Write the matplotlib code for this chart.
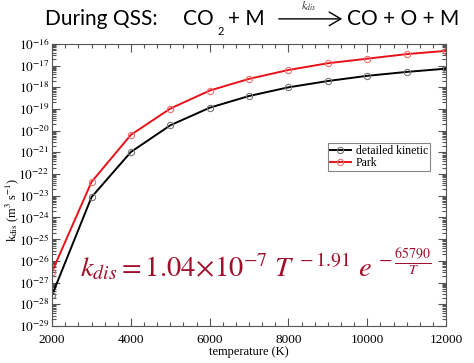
import numpy as np
import matplotlib.pyplot as plt
from matplotlib.patches import FancyArrowPatch
from matplotlib.ticker import LogLocator, NullFormatter, FixedLocator, AutoMinorLocator

# data (log10 of k_dis in m^3/s)
temperature = [2000, 3000, 4000, 5000, 6000, 7000, 8000, 9000, 10000, 11000, 12000]
log_k_detailed = [-27.57, -23.06, -20.98, -19.75, -18.94, -18.40, -18.00, -17.71, -17.47, -17.29, -17.14]
log_k_park = [-26.49, -22.36, -20.19, -18.98, -18.15, -17.61, -17.20, -16.89, -16.68, -16.47, -16.32]
decades = list(range(-29, -15))

k_detailed = 10.0 ** np.array(log_k_detailed)
k_park = 10.0 ** np.array(log_k_park)

plt.rcParams['mathtext.fontset'] = 'stix'
serif = 'Liberation Serif'

fig = plt.figure(figsize=(4.74, 3.63), dpi=100)
ax = fig.add_axes([0.110, 0.102, 0.831, 0.777])

ax.plot(temperature, k_detailed, color='black', lw=1.4, marker='o', ms=4.5,
        mfc='none', mec='#777777', mew=0.8, label='detailed kinetic')
ax.plot(temperature, k_park, color='#e8111a', lw=1.4, marker='o', ms=4.5,
        mfc='none', mec='#f07070', mew=0.8, label='Park')

ax.set_yscale('log')
ax.set_xlim(2000, 12000)
ax.set_ylim(1e-29, 1e-16)

ax.set_xticks([2000, 4000, 6000, 8000, 10000, 12000])
ax.xaxis.set_minor_locator(AutoMinorLocator(6))
ax.yaxis.set_major_locator(FixedLocator([10.0 ** e for e in decades]))
ax.yaxis.set_minor_locator(LogLocator(base=10, subs=np.arange(2, 10), numticks=40))
ax.yaxis.set_minor_formatter(NullFormatter())
ax.set_yticklabels([r'$\mathrm{10}^{%d}$' % e for e in decades])

ax.tick_params(which='both', direction='in', top=True, right=True, colors='#555555',
               labelcolor='black', width=0.8)
ax.tick_params(which='major', length=6, labelsize=9.5, pad=2)
ax.tick_params(axis='x', which='major', pad=5.5)
ax.tick_params(which='minor', length=3)
for lab in ax.get_xticklabels() + ax.get_yticklabels():
    lab.set_family(serif)
for s in ax.spines.values():
    s.set_color('#555555')

ax.set_xlabel('temperature (K)', family=serif, fontsize=9)
ax.xaxis.set_label_coords(0.5, -0.072)
ax.set_ylabel(r'k$_{\rm dis}$ (m$^3$ s$^{-1}$)', family=serif, fontsize=9)
ax.yaxis.set_label_coords(-0.080, 0.41)

leg = ax.legend(loc='upper left', bbox_to_anchor=(0.70, 0.648),
                prop={'family': serif, 'size': 8.5}, frameon=True, fancybox=False,
                edgecolor='#666666', handlelength=1.8, borderpad=0.15,
                labelspacing=0.0, handletextpad=0.4, borderaxespad=0)
leg.get_frame().set_linewidth(0.8)

# title reaction line
ty = 0.948
fig.text(45 / 474, ty, 'During QSS:', family='Lato', fontsize=15, va='center')
fig.text(183 / 474, ty, 'CO', family='Lato', fontsize=15, va='center')
fig.text(218 / 474, ty - 0.034, '2', family='Lato', fontsize=8, va='center')
fig.text(228 / 474, ty, '+ M', family='Lato', fontsize=15, va='center')
fig.text(347 / 474, ty, 'CO + O + M', family='Lato', fontsize=15, va='center')
fig.patches.append(FancyArrowPatch(
    (276 / 474, ty), (345 / 474, ty), transform=fig.transFigure,
    arrowstyle='->,head_length=0.6,head_width=0.35', mutation_scale=14, lw=1.0, color='black'))
fig.text(309 / 474, 0.982, r'$k_{dis}$', fontsize=8, ha='center', va='center', color='#333333')

# rate expression
ax.text(0.07, 0.215,
        r'$k_{dis}=1.04\!\times\!10^{-7}\ T^{\,-1.91}\ e^{\,-\frac{65790}{T}}$',
        transform=ax.transAxes, fontsize=20.5, color='#a0102a', va='center')

fig.savefig('out.png', dpi=100)
